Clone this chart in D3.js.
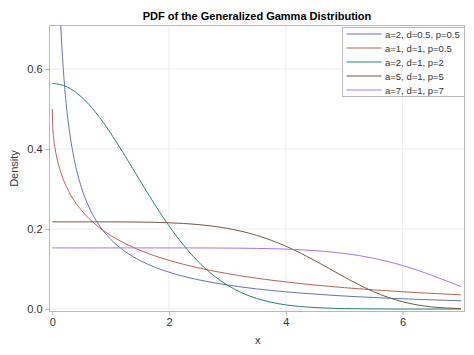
<!DOCTYPE html>
<html><head><meta charset="utf-8">
<script src="https://cdn.jsdelivr.net/npm/d3@7"></script>
<style>body{margin:0;background:#fff}text{font-family:"Liberation Sans",Arial,sans-serif}</style>
</head><body><svg id="c" width="474" height="355"></svg>
<script>
const titleText = "PDF of the Generalized Gamma Distribution";
const seriesLabels = ["a=2, d=0.5, p=0.5","a=1, d=1, p=0.5","a=2, d=1, p=2","a=5, d=1, p=5","a=7, d=1, p=7"];
const xTicks = [0,2,4,6];
const yTicks = [0.0,0.2,0.4,0.6];
const xGrid = [0,0.25,0.5,0.75,1,1.25,1.5,1.75,2,2.25,2.5,2.75,3,3.25,3.5,3.75,4,4.25,4.5,4.75,5,5.25,5.5,5.75,6,6.25,6.5,6.75,7];
const x1 = [0.13,0.15,0.2,0.25,0.3,0.375,0.5,0.625,0.75,1,1.25,1.5,1.75,2,2.25,2.5,2.75,3,3.25,3.5,3.75,4,4.25,4.5,4.75,5,5.25,5.5,5.75,6,6.25,6.5,6.75,7];
const y1 = [0.7599,0.6942,0.5763,0.4965,0.4382,0.3745,0.3033,0.2557,0.2213,0.1743,0.1434,0.1214,0.1049,0.0920,0.0816,0.0731,0.0660,0.0600,0.0548,0.0503,0.0464,0.0430,0.0399,0.0372,0.0347,0.0325,0.0305,0.0287,0.0271,0.0255,0.0241,0.0229,0.0217,0.0206];
const x2 = [0,0.005,0.02,0.05,0.1,0.15,0.25,0.5,0.75,1,1.25,1.5,1.75,2,2.25,2.5,2.75,3,3.25,3.5,3.75,4,4.25,4.5,4.75,5,5.25,5.5,5.75,6,6.25,6.5,6.75,7];
const y2 = [0.5,0.4658,0.4340,0.3998,0.3644,0.3394,0.3033,0.2466,0.2103,0.1839,0.1635,0.1469,0.1332,0.1216,0.1116,0.1029,0.0952,0.0885,0.0824,0.0770,0.0721,0.0677,0.0636,0.0599,0.0566,0.0534,0.0506,0.0479,0.0454,0.0432,0.0410,0.0391,0.0372,0.0355];
const y3 = [0.5642,0.5555,0.5300,0.4902,0.4394,0.3817,0.3215,0.2624,0.2076,0.1591,0.1183,0.0852,0.0595,0.0402,0.0264,0.0168,0.0103,0.0062,0.0036,0.0020,0.0011,0.0006,0.0003,0.0001,0.0000,0,0,0,0];
const y4 = [0.2178,0.2178,0.2178,0.2178,0.2178,0.2176,0.2173,0.2167,0.2156,0.2139,0.2111,0.2071,0.2015,0.1940,0.1841,0.1718,0.1570,0.1398,0.1207,0.1005,0.0801,0.0608,0.0435,0.0291,0.0181,0.0103,0.0053,0.0025,0.0010];
const y5 = [0.1527,0.1527,0.1527,0.1527,0.1527,0.1527,0.1527,0.1527,0.1527,0.1527,0.1526,0.1525,0.1523,0.1520,0.1515,0.1508,0.1497,0.1481,0.1459,0.1429,0.1389,0.1336,0.1269,0.1187,0.1087,0.0972,0.0842,0.0703,0.0562];

const colors = ["#6474ac","#bb6258","#2c8279","#735a42","#a977e4"];
const series = [
  {xs:x1, ys:y1}, {xs:x2, ys:y2}, {xs:xGrid, ys:y3}, {xs:xGrid, ys:y4}, {xs:xGrid, ys:y5}
];

const svg = d3.select("#c");
const L = 49.5, R = 464.5, T = 25.5, B = 311.5;
const x = d3.scaleLinear().domain([0,7]).range([52.3,461]);
const y = d3.scaleLinear().domain([0,0.6]).range([309,69]);
const frameC = "#b8b8b8", gridC = "#ececec", textC = "#333";

svg.append("rect").attr("width",474).attr("height",355).attr("fill","#fff");

// grid
svg.append("g").selectAll("line").data(yTicks).join("line")
  .attr("x1",L).attr("x2",R).attr("y1",d=>y(d)).attr("y2",d=>y(d))
  .attr("stroke",gridC).attr("stroke-width",1);
svg.append("g").selectAll("line").data(xTicks.filter(d=>d>0)).join("line")
  .attr("y1",T).attr("y2",B).attr("x1",d=>x(d)).attr("x2",d=>x(d))
  .attr("stroke",gridC).attr("stroke-width",1);

svg.append("clipPath").attr("id","clip").append("rect")
  .attr("x",L).attr("y",T).attr("width",R-L).attr("height",B-T);

const line = d3.line().curve(d3.curveMonotoneX);
const g = svg.append("g").attr("clip-path","url(#clip)");
series.forEach((s,i)=>{
  g.append("path")
    .attr("d", line(s.xs.map((v,j)=>[x(v), y(s.ys[j])])))
    .attr("fill","none").attr("stroke",colors[i]).attr("stroke-width",1);
});

// frame
svg.append("rect").attr("x",L).attr("y",T).attr("width",R-L).attr("height",B-T)
  .attr("fill","none").attr("stroke",frameC).attr("stroke-width",1);

// axes
const ay = svg.append("g").attr("transform",`translate(${L},0)`)
  .call(d3.axisLeft(y).tickValues(yTicks).tickFormat(d3.format(".1f")).tickSize(4).tickPadding(3));
const ax = svg.append("g").attr("transform",`translate(0,${B})`)
  .call(d3.axisBottom(x).tickValues(xTicks).tickFormat(d3.format("d")).tickSize(4).tickPadding(3));
[ax,ay].forEach(a=>{
  a.select(".domain").remove();
  a.selectAll(".tick line").attr("stroke",frameC);
  a.selectAll(".tick text").attr("fill",textC).style("font-size","11px").style("font-family","'Liberation Sans',Arial,sans-serif");
});

// titles
svg.append("text").attr("x",(L+R)/2).attr("y",20).attr("text-anchor","middle")
  .attr("fill","#000").style("font-size","11px").style("font-weight","bold").text(titleText);
svg.append("text").attr("x",x(3.5)+1).attr("y",344).attr("text-anchor","middle")
  .attr("fill",textC).style("font-size","11px").text("x");
svg.append("text").attr("transform",`translate(18,${(T+B)/2}) rotate(-90)`).attr("text-anchor","middle")
  .attr("fill",textC).style("font-size","11px").text("Density");

// legend
const lg = svg.append("g");
lg.append("rect").attr("x",342.5).attr("y",27.5).attr("width",122).attr("height",69)
  .attr("fill","#fff").attr("stroke",frameC).attr("stroke-width",1);
seriesLabels.forEach((lab,i)=>{
  const yy = 34 + i*14;
  lg.append("line").attr("x1",346.5).attr("x2",381.5).attr("y1",yy).attr("y2",yy)
    .attr("stroke",colors[i]).attr("stroke-width",1.1);
  lg.append("text").attr("x",385).attr("y",yy+3.5).attr("fill",textC)
    .style("font-size","9.5px").text(lab);
});
</script></body></html>
